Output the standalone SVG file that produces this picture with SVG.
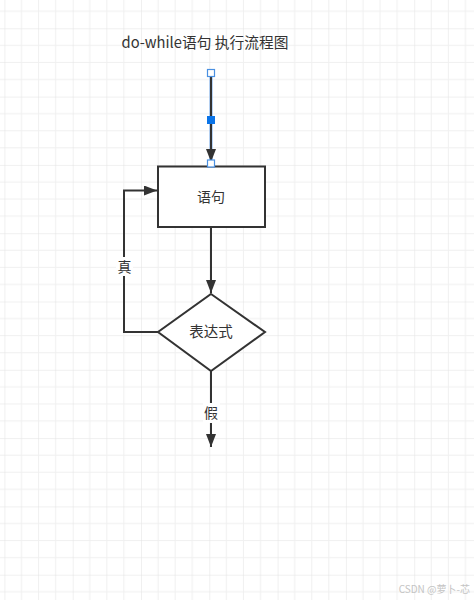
<svg xmlns="http://www.w3.org/2000/svg" width="474" height="600" viewBox="0 0 474 600">
  <style>
    .t { font-family: "Noto Sans CJK SC", "Noto Sans", sans-serif; fill: #333333; }
    .shape { fill: #ffffff; stroke: #333333; stroke-width: 2; }
    .edge { fill: none; stroke: #333333; stroke-width: 2; }
    .lbl-bg { fill: #ffffff; }
    .handle { fill: #ffffff; stroke: #4a90e2; stroke-width: 1.2; }
  </style>
  <defs>
    <pattern id="grid" patternUnits="userSpaceOnUse" x="4.4" y="28.3" width="68.3" height="68.3">
      <path d="M17.07 0V68.3M34.15 0V68.3M51.22 0V68.3M0 17.07H68.3M0 34.15H68.3M0 51.22H68.3" stroke="#f0f0f0" stroke-width="1" fill="none"/>
      <path d="M0 0V68.3M0 0H68.3" stroke="#e2e2e2" stroke-width="1" fill="none"/>
    </pattern>
    <marker id="arr" markerWidth="14" markerHeight="10" refX="13" refY="5" orient="auto" markerUnits="userSpaceOnUse">
      <path d="M0 0L13 5L0 10Z" fill="#333333"/>
    </marker>
  </defs>
  <rect x="0" y="0" width="474" height="600" fill="#ffffff"/>
  <rect x="0" y="0" width="474" height="600" fill="url(#grid)"/>

  <g id="title">
    <text class="t" x="121.5" y="48" font-size="15" textLength="167" lengthAdjust="spacingAndGlyphs">do-while语句 执行流程图</text>
  </g>

  <g id="connectors">
    <line x1="211" y1="73" x2="211" y2="162" stroke="#8ab8ee" stroke-width="4" stroke-opacity="0.6"/>
    <line class="edge" x1="211" y1="73" x2="211" y2="162" marker-end="url(#arr)"/>
    <line class="edge" x1="211" y1="227" x2="211" y2="293" marker-end="url(#arr)"/>
    <polyline class="edge" points="158,332 124,332 124,190.5 157,190.5" marker-end="url(#arr)"/>
    <line class="edge" x1="211" y1="371" x2="211" y2="447" marker-end="url(#arr)"/>
    <rect class="lbl-bg" x="116" y="257" width="17" height="19"/>
    <text class="t" x="124.5" y="271.5" font-size="14" text-anchor="middle">真</text>
    <rect class="lbl-bg" x="203" y="403" width="17" height="20"/>
    <text class="t" x="211" y="418" font-size="14" text-anchor="middle">假</text>
    <rect class="handle" x="207.5" y="69.5" width="7" height="7"/>
    <rect x="207" y="116" width="8" height="8" fill="#0a74e8"/>
  </g>

  <g id="node-stmt">
    <rect class="shape" x="158" y="166.5" width="107" height="60.5"/>
    <rect class="handle" x="207.5" y="160" width="7" height="7"/>
    <text class="t" x="211" y="202" font-size="14" text-anchor="middle">语句</text>
  </g>

  <g id="node-expr">
    <polygon class="shape" points="211,294 265,332 211,371 158,332"/>
    <text class="t" x="211" y="337" font-size="14.5" text-anchor="middle">表达式</text>
  </g>

  <g id="watermark">
    <text x="470" y="593" font-size="10" text-anchor="end" font-family="Noto Sans CJK SC, sans-serif" fill="#c4c4c4">CSDN @萝卜-芯</text>
  </g>
</svg>
